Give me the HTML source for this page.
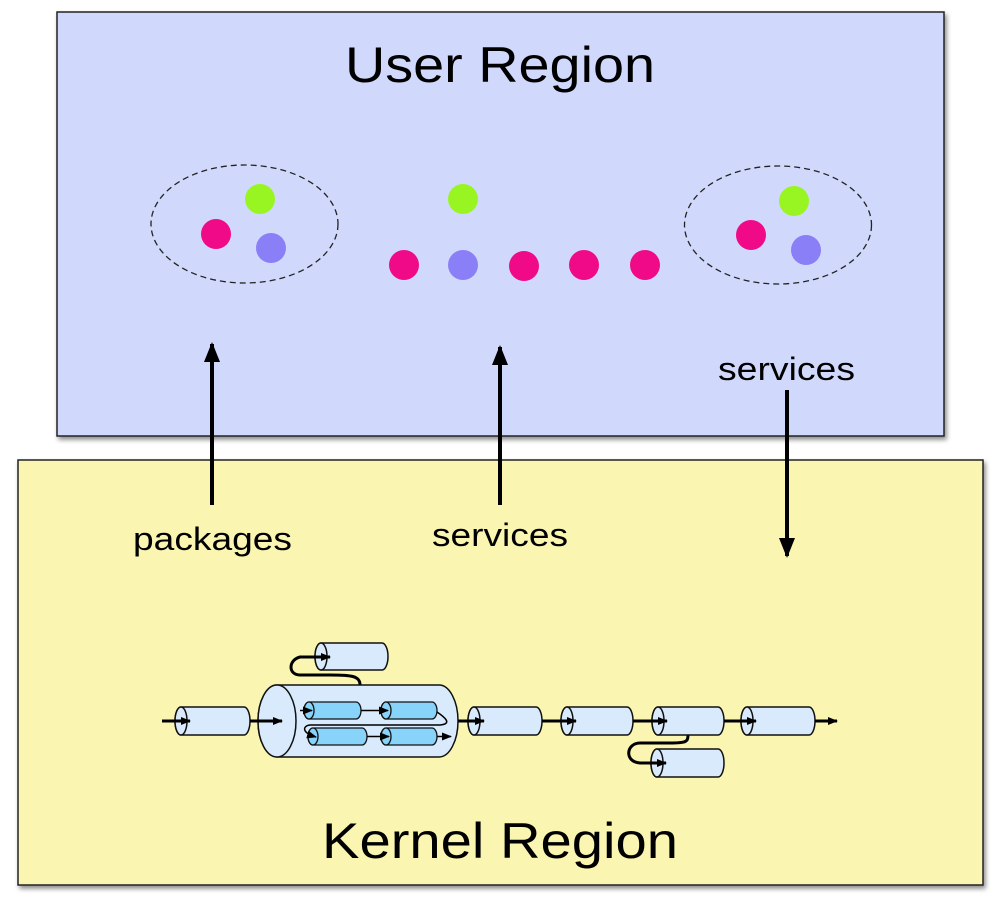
<!DOCTYPE html>
<html><head><meta charset="utf-8"><style>
html,body{margin:0;padding:0;background:#fff;}
svg{display:block;}
text{font-family:"Liberation Sans",sans-serif;fill:#000;}
</style></head><body>
<svg width="1000" height="909" viewBox="0 0 1000 909" xmlns="http://www.w3.org/2000/svg">
<defs>
<marker id="ah" markerWidth="10" markerHeight="10" refX="9" refY="5" orient="auto" markerUnits="userSpaceOnUse"><path d="M0,1 L10,5 L0,9 Z" fill="#000"/></marker>
<marker id="big" markerWidth="20" markerHeight="20" refX="18" refY="10" orient="auto" markerUnits="userSpaceOnUse"><path d="M0,2 L20,10 L0,18 Z" fill="#000"/></marker>
<filter id="sh" x="-5%" y="-5%" width="110%" height="110%"><feDropShadow dx="2" dy="3" stdDeviation="2.5" flood-color="#000" flood-opacity="0.45"/></filter>
</defs>
<rect x="57" y="12" width="887" height="424" fill="#d0d9fb" stroke="#222" stroke-width="1.5" filter="url(#sh)"/>
<rect x="18" y="460" width="965" height="425" fill="#faf5b0" stroke="#222" stroke-width="1.5" filter="url(#sh)"/>
<text x="345" y="82" font-size="50" textLength="310" lengthAdjust="spacingAndGlyphs">User Region</text>
<text x="322" y="858" font-size="50" textLength="356" lengthAdjust="spacingAndGlyphs">Kernel Region</text>
<ellipse cx="244.5" cy="224" rx="93.5" ry="59" fill="none" stroke="#222" stroke-width="1.3" stroke-dasharray="6,4"/>
<ellipse cx="778" cy="225" rx="93.5" ry="59" fill="none" stroke="#222" stroke-width="1.3" stroke-dasharray="6,4"/>
<g>
<circle cx="260" cy="199" r="15" fill="#99f522"/>
<circle cx="216" cy="234" r="15" fill="#f00a88"/>
<circle cx="271" cy="248" r="15" fill="#8a7ff6"/>
<circle cx="463" cy="199" r="15" fill="#99f522"/>
<circle cx="404" cy="265" r="15" fill="#f00a88"/>
<circle cx="463" cy="265" r="15" fill="#8a7ff6"/>
<circle cx="524" cy="266" r="15" fill="#f00a88"/>
<circle cx="584" cy="265" r="15" fill="#f00a88"/>
<circle cx="645" cy="265" r="15" fill="#f00a88"/>
<circle cx="794" cy="201" r="15" fill="#99f522"/>
<circle cx="751" cy="235" r="15" fill="#f00a88"/>
<circle cx="806" cy="250" r="15" fill="#8a7ff6"/>
</g>
<line x1="212" y1="505" x2="212" y2="344" stroke="#000" stroke-width="4" marker-end="url(#big)"/>
<line x1="500" y1="505" x2="500" y2="347" stroke="#000" stroke-width="4" marker-end="url(#big)"/>
<line x1="787" y1="390" x2="787" y2="556" stroke="#000" stroke-width="4" marker-end="url(#big)"/>
<text x="133" y="550" font-size="32" textLength="159" lengthAdjust="spacingAndGlyphs">packages</text>
<text x="432" y="546" font-size="32" textLength="136" lengthAdjust="spacingAndGlyphs">services</text>
<text x="718" y="380" font-size="32" textLength="137" lengthAdjust="spacingAndGlyphs">services</text>

<g stroke="#111" stroke-width="1.5" fill="#d8eafb">
<g fill="none" stroke="#000" stroke-width="3">
<path d="M360,685 C360,676 352,675 330,675 L300,675 C288,675 288,660 300,657 L330,657" marker-end="url(#ah)"/>
<path d="M688,735 C688,742 686,743 670,743 L640,743 C626,743 624,762 640,763 L666,763" marker-end="url(#ah)"/>
</g>
<path d="M181,707 H244 A6,14 0 0 1 244,735 H181 A6,14 0 0 1 181,707 Z"/><ellipse cx="181" cy="721" rx="6" ry="14"/>
<path d="M474,707 H536 A6,14 0 0 1 536,735 H474 A6,14 0 0 1 474,707 Z"/><ellipse cx="474" cy="721" rx="6" ry="14"/>
<path d="M567,707 H627 A6,14 0 0 1 627,735 H567 A6,14 0 0 1 567,707 Z"/><ellipse cx="567" cy="721" rx="6" ry="14"/>
<path d="M658,707 H718 A6,14 0 0 1 718,735 H658 A6,14 0 0 1 658,707 Z"/><ellipse cx="658" cy="721" rx="6" ry="14"/>
<path d="M747,707 H809 A6,14 0 0 1 809,735 H747 A6,14 0 0 1 747,707 Z"/><ellipse cx="747" cy="721" rx="6" ry="14"/>
<path d="M321,643 H382 A6,13.5 0 0 1 382,670 H321 A6,13.5 0 0 1 321,643 Z"/><ellipse cx="321" cy="656.5" rx="6" ry="13.5"/>
<path d="M657,749 H718 A6,14 0 0 1 718,777 H657 A6,14 0 0 1 657,749 Z"/><ellipse cx="657" cy="763" rx="6" ry="14"/>
<path d="M277,685 H439 A19,36 0 0 1 439,757 H277 A19,36 0 0 1 277,685 Z"/><ellipse cx="277" cy="721" rx="19" ry="36"/>
</g>
<g fill="none" stroke="#000" stroke-width="3">
<line x1="162" y1="721" x2="190" y2="721" marker-end="url(#ah)"/>
<line x1="250" y1="721" x2="282" y2="721" marker-end="url(#ah)"/>
<line x1="458" y1="721" x2="484" y2="721" marker-end="url(#ah)"/>
<line x1="542" y1="721" x2="576" y2="721" marker-end="url(#ah)"/>
<line x1="633" y1="721" x2="667" y2="721" marker-end="url(#ah)"/>
<line x1="724" y1="721" x2="756" y2="721" marker-end="url(#ah)"/>
<line x1="815" y1="721" x2="837" y2="721" marker-end="url(#ah)"/>
<line x1="300" y1="657" x2="330" y2="657" marker-end="url(#ah)"/>
<line x1="640" y1="763" x2="666" y2="763" marker-end="url(#ah)"/>
</g>
<g stroke="#111" stroke-width="1.3" fill="#88d3f9">
<path d="M309,702 H356 A5,8.5 0 0 1 356,719 H309 A5,8.5 0 0 1 309,702 Z"/><ellipse cx="309" cy="710.5" rx="5" ry="8.5"/>
<path d="M386,702 H432 A5,8.5 0 0 1 432,719 H386 A5,8.5 0 0 1 386,702 Z"/><ellipse cx="386" cy="710.5" rx="5" ry="8.5"/>
<path d="M313,728 H362 A5,8.5 0 0 1 362,745 H313 A5,8.5 0 0 1 313,728 Z"/><ellipse cx="313" cy="736.5" rx="5" ry="8.5"/>
<path d="M386,728 H432 A5,8.5 0 0 1 432,745 H386 A5,8.5 0 0 1 386,728 Z"/><ellipse cx="386" cy="736.5" rx="5" ry="8.5"/>
</g>
<g fill="none" stroke="#000" stroke-width="1.5">
<line x1="300" y1="710.5" x2="312" y2="710.5" marker-end="url(#ah)"/>
<line x1="361" y1="710.5" x2="388" y2="710.5" marker-end="url(#ah)"/>
<line x1="367" y1="736.5" x2="389" y2="736.5" marker-end="url(#ah)"/>
<line x1="437" y1="736.5" x2="451" y2="736.5" marker-end="url(#ah)"/>
<path d="M437,712 C446,718 452,724 440,725 L310,725 C302,726 302,733 316,737" marker-end="url(#ah)"/>
</g>
</svg>
</body></html>
